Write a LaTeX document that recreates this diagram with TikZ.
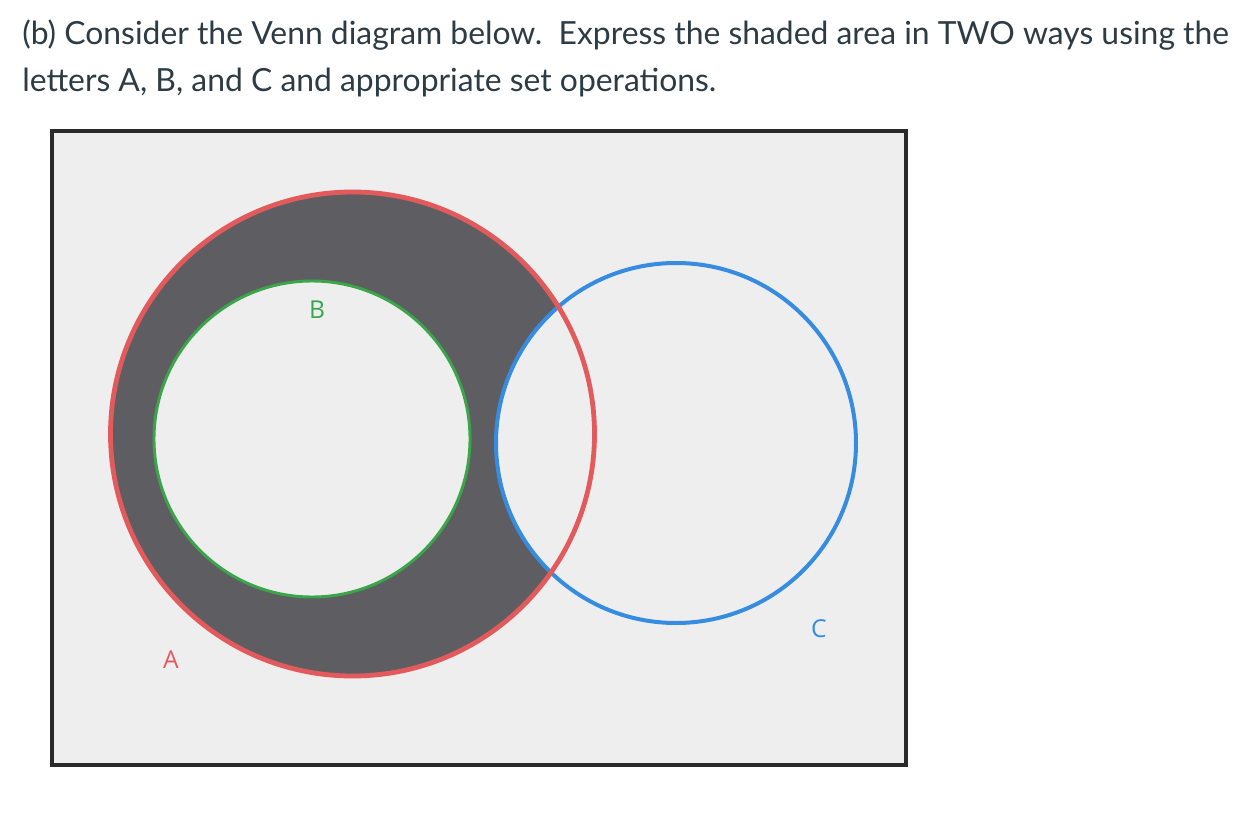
\documentclass[tikz,border=0pt]{standalone}
\usepackage{fontspec}
\setmainfont{Lato}
\newfontfamily\labelfont{Open Sans}
\definecolor{bgc}{HTML}{EEEEEE}
\definecolor{shadec}{HTML}{5E5E62}
\definecolor{redc}{HTML}{E25A5C}
\definecolor{greenc}{HTML}{3BA54A}
\definecolor{bluec}{HTML}{368CE0}
\definecolor{framec}{HTML}{2A2A2A}
\definecolor{textc}{HTML}{2D3B45}
\begin{document}
\begin{tikzpicture}[x=0.75pt,y=-0.75pt,
  title/.style={anchor=base west,inner sep=0pt,text=textc,font=\fontsize{23.9}{28}\selectfont},
  setlabel/.style={inner sep=0pt,font=\labelfont\fontsize{18.5}{20}\selectfont}]
\useasboundingbox (0,0) rectangle (1250,831);
\node[title] (t1) at (22,45) {(b) Consider the Venn diagram below.\ \ Express the shaded area in TWO ways using the};
\node[title] (t2) at (22,92) {letters A, B, and C and appropriate set operations.};
% frame
\draw[framec,line width=2.4pt,fill=bgc] (52,131) rectangle (906,765);
% shaded region A \ (B u C)
\fill[shadec] (352.5,434) circle (242);
\fill[bgc] (312,439) circle (158);
\fill[bgc] (676,443) circle (180);
\draw[bluec,line width=3pt] (676,443) circle (180);
\draw[redc,line width=3.6pt] (352.5,434) circle (242);
\draw[greenc,line width=2.2pt] (312,439) circle (158);
\node[setlabel,text=greenc] (lb) at (317,310) {B};
\node[setlabel,text=redc] (la) at (171,660) {A};
\node[setlabel,text=bluec] (lc) at (819,629) {C};
\end{tikzpicture}
\end{document}
